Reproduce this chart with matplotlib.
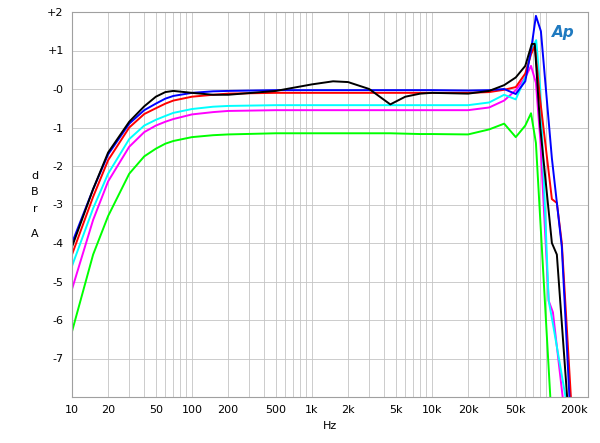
import matplotlib
matplotlib.use("Agg")
import matplotlib.pyplot as plt
import numpy as np

f_lo = [10, 15, 20, 30, 40, 50, 60, 70, 100, 150, 200, 500, 1000, 1500, 2000, 3000, 4500, 6000, 8000, 10000, 20000, 30000, 40000]
black_lo = [-4.1, -2.6, -1.65, -0.85, -0.45, -0.2, -0.08, -0.05, -0.1, -0.15, -0.15, -0.05, 0.12, 0.2, 0.18, 0.0, -0.4, -0.2, -0.12, -0.1, -0.12, -0.05, 0.1]
blue_lo = [-4.0, -2.6, -1.7, -0.9, -0.55, -0.38, -0.25, -0.18, -0.1, -0.06, -0.05, -0.03, -0.03, -0.03, -0.03, -0.03, -0.03, -0.03, -0.03, -0.03, -0.04, -0.03, 0.0]
red_lo = [-4.3, -2.8, -1.85, -1.0, -0.65, -0.5, -0.38, -0.3, -0.2, -0.15, -0.12, -0.1, -0.1, -0.1, -0.1, -0.1, -0.1, -0.1, -0.1, -0.1, -0.1, -0.08, -0.02]
cyan_lo = [-4.6, -3.1, -2.2, -1.3, -0.95, -0.8, -0.7, -0.62, -0.52, -0.46, -0.44, -0.42, -0.42, -0.42, -0.42, -0.42, -0.42, -0.42, -0.42, -0.42, -0.42, -0.35, -0.15]
mag_lo = [-5.2, -3.4, -2.4, -1.5, -1.12, -0.95, -0.85, -0.78, -0.66, -0.6, -0.57, -0.55, -0.55, -0.55, -0.55, -0.55, -0.55, -0.55, -0.55, -0.55, -0.55, -0.48, -0.3]
green_lo = [-6.3, -4.3, -3.3, -2.2, -1.75, -1.55, -1.42, -1.35, -1.25, -1.2, -1.18, -1.15, -1.15, -1.15, -1.15, -1.15, -1.15, -1.16, -1.17, -1.17, -1.18, -1.05, -0.9]

black_f = [50000, 60000, 68000, 72000, 80000, 100000, 110000, 134000]
black_hf = [0.3, 0.6, 1.17, 1.17, -1.0, -4.0, -4.3, -8.0]
blue_f = [50000, 60000, 67000, 73600, 81000, 100000, 121000, 140000]
blue_hf = [-0.13, 0.2, 1.0, 1.9, 1.5, -1.8, -4.1, -8.0]
red_f = [50000, 60000, 67000, 72000, 80000, 100000, 110000, 121000, 144000]
red_hf = [0.05, 0.4, 0.9, 1.12, -0.3, -2.86, -2.96, -4.0, -8.0]
cyan_f = [50000, 60000, 67000, 74000, 80000, 94000, 102000, 130000]
cyan_hf = [-0.27, 0.3, 1.0, 1.27, 0.0, -5.5, -6.1, -8.0]
mag_f = [50000, 60000, 67000, 73600, 80000, 94000, 102000, 123000]
mag_hf = [-0.03, 0.3, 0.6, 0.16, -1.3, -5.5, -5.8, -8.0]
green_f = [50000, 60000, 67000, 73600, 97000]
green_hf = [-1.25, -0.95, -0.63, -1.4, -8.0]

series = [
    ("#00ff00", green_lo, green_f, green_hf),
    ("#ff00ff", mag_lo, mag_f, mag_hf),
    ("#00ffff", cyan_lo, cyan_f, cyan_hf),
    ("#ff0000", red_lo, red_f, red_hf),
    ("#0000ff", blue_lo, blue_f, blue_hf),
    ("#000000", black_lo, black_f, black_hf),
]

fig = plt.figure(figsize=(6, 4.43), dpi=100)
ax = fig.add_axes([72/600, 1-397/443, (588-72)/600, (397-12)/443])
for c, lo, fh, hf in series:
    ax.plot(f_lo + fh, lo + hf, color=c, lw=1.4)

ax.set_xscale("log")
ax.set_xlim(10, 200000)
ax.set_ylim(-8, 2)
xt = [10, 20, 50, 100, 200, 500, 1000, 2000, 5000, 10000, 20000, 50000, 200000]
xl = ["10", "20", "50", "100", "200", "500", "1k", "2k", "5k", "10k", "20k", "50k", "200k"]
ax.set_xticks(xt)
ax.set_xticklabels(xl, fontsize=8)
ax.get_xticklabels()[-1].set_horizontalalignment("right")
ax.xaxis.set_minor_formatter(matplotlib.ticker.NullFormatter())
yt = [2, 1, 0, -1, -2, -3, -4, -5, -6, -7]
yl = ["+2", "+1", "-0", "-1", "-2", "-3", "-4", "-5", "-6", "-7"]
ax.set_yticks(yt)
ax.set_yticklabels(yl, fontsize=8)
ax.grid(True, which="both", color="#c4c4c4", lw=0.6)
ax.tick_params(which="both", length=0, pad=6)
for s in ax.spines.values():
    s.set_color("#a0a0a0")
ax.set_xlabel("Hz", fontsize=8, labelpad=4)
fig.text(35/600, 1-205/443, "d\n\nB\n\nr\n\n\nA", fontsize=8, ha="center", va="center", linespacing=0.8)
ax.text(0.975, 0.965, "Ap", transform=ax.transAxes, fontsize=11, color="#1f7ac0",
        style="italic", ha="right", va="top", fontweight="bold")
fig.savefig("out.png", dpi=100)
